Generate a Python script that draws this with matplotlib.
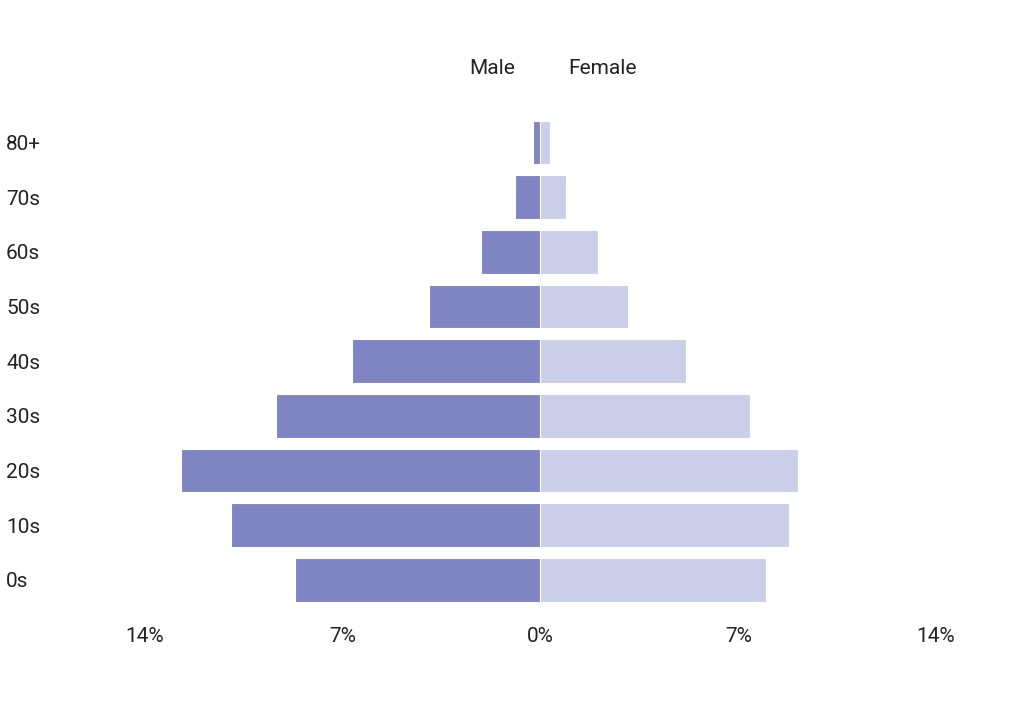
import matplotlib
matplotlib.use("Agg")
import matplotlib.pyplot as plt

ages = ["0s", "10s", "20s", "30s", "40s", "50s", "60s", "70s", "80+"]
male = [8.69, 10.96, 12.73, 9.36, 6.67, 3.94, 2.09, 0.89, 0.28]
female = [7.98, 8.79, 9.11, 7.41, 5.14, 3.09, 2.02, 0.89, 0.32]
xticks = [-14, -7, 0, 7, 14]
xticklabels = ["14%", "7%", "0%", "7%", "14%"]

plt.rcParams['font.family'] = ['Roboto', 'DejaVu Sans']
fig = plt.figure(figsize=(10.24, 7.06), dpi=100)
ax = fig.add_axes([0.1416, 0.140, 0.7724, 0.697])
y = range(len(ages))
ax.barh(y, [-m for m in male], height=0.8, color="#7f84c2", edgecolor="white", linewidth=0.8)
ax.barh(y, female, height=0.8, color="#cccfe9", edgecolor="white", linewidth=0.8)
ax.set_xlim(-14, 14)
ax.set_ylim(-0.5, 8.5)
ax.set_xticks(xticks)
ax.set_xticklabels(xticklabels, fontsize=15, color="#222222")
ax.set_yticks(list(y))
ax.set_yticklabels(ages, fontsize=15, color="#222222", ha="left")
ax.tick_params(axis="y", length=0, pad=100)
ax.tick_params(axis="x", length=0, pad=14)
for s in ax.spines.values():
    s.set_visible(False)
fig.text(492/1024, 1-69/706, "Male", ha="center", va="center", fontsize=15, color="#222222")
fig.text(603/1024, 1-69/706, "Female", ha="center", va="center", fontsize=15, color="#222222")
fig.savefig("out.png", dpi=100)
